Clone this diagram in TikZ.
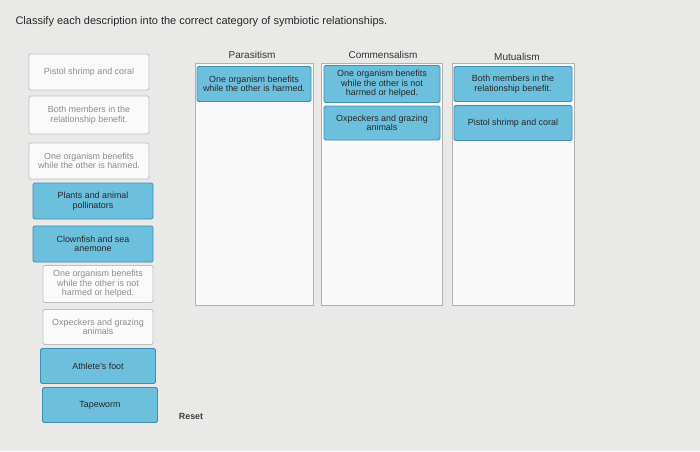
\documentclass[tikz,border=0pt]{standalone}
\usepackage{fontspec}
\setmainfont{Liberation Sans}
\begin{document}
\begin{tikzpicture}[x=1pt,y=-1pt,
  card/.style={draw=#1, line width=0.8pt, rounded corners=1.5pt, align=center, font=\fontsize{8.9}{9.6}\selectfont, inner sep=1pt},
  blue/.style={card=cardedge, fill=cardblue, text=black!85},
  faded/.style={card=black!25, fill=white!96!gray, text=black!45},
  col/.style={draw=black!30, fill=white!95!gray, line width=0.6pt},
  head/.style={font=\fontsize{10}{11}\selectfont, text=black!80}]
\definecolor{cardblue}{HTML}{6CC0DE}
\definecolor{cardedge}{HTML}{3E8FB0}
\definecolor{bg}{HTML}{E9E9E7}
\fill[bg] (0,0) rectangle (700,451);
\useasboundingbox (0,0) rectangle (700,451);
\node[anchor=west, font=\fontsize{11}{12}\selectfont, text=black!85] (title) at (12,22) {Classify each description into the correct category of symbiotic relationships.};
% left column
\node[faded, minimum width=120, minimum height=36] (l1) at (89,72) {Pistol shrimp and coral};
\node[faded, minimum width=120, minimum height=38] (l2) at (89,115) {Both members in the\\relationship benefit.};
\node[faded, minimum width=120, minimum height=36] (l3) at (89,161) {One organism benefits\\while the other is harmed.};
\node[blue, minimum width=120, minimum height=36] (l4) at (93,201) {Plants and animal\\pollinators};
\node[blue, minimum width=120, minimum height=36] (l5) at (93,244) {Clownfish and sea\\anemone};
\node[faded, minimum width=110, minimum height=37] (l6) at (98,284) {One organism benefits\\while the other is not\\harmed or helped.};
\node[faded, minimum width=110, minimum height=35] (l7) at (98,327) {Oxpeckers and grazing\\animals};
\node[blue, minimum width=115, minimum height=35] (l8) at (98,366) {Athlete's foot};
\node[blue, minimum width=115, minimum height=35] (l9) at (100,405) {Tapeworm};
\node[font=\fontsize{8.9}{10}\selectfont\bfseries, text=black!75] (reset) at (191,416) {Reset};
% columns
\node[col, minimum width=118, minimum height=242] (c1) at (254,184) {};
\node[col, minimum width=121, minimum height=242] (c2) at (382,184) {};
\node[col, minimum width=122, minimum height=242] (c3) at (513,184) {};
\node[head] (h1) at (252,55) {Parasitism};
\node[head] (h2) at (383,55) {Commensalism};
\node[head] (h3) at (517,57) {Mutualism};
\node[blue, minimum width=114, minimum height=35] (p1) at (254,84) {One organism benefits\\while the other is harmed.};
\node[blue, minimum width=116, minimum height=37] (m1) at (382,84) {One organism benefits\\while the other is not\\harmed or helped.};
\node[blue, minimum width=116, minimum height=34] (m2) at (382,123) {Oxpeckers and grazing\\animals};
\node[blue, minimum width=118, minimum height=35] (u1) at (513,84) {Both members in the\\relationship benefit.};
\node[blue, minimum width=118, minimum height=35] (u2) at (513,123) {Pistol shrimp and coral};
\end{tikzpicture}
\end{document}
